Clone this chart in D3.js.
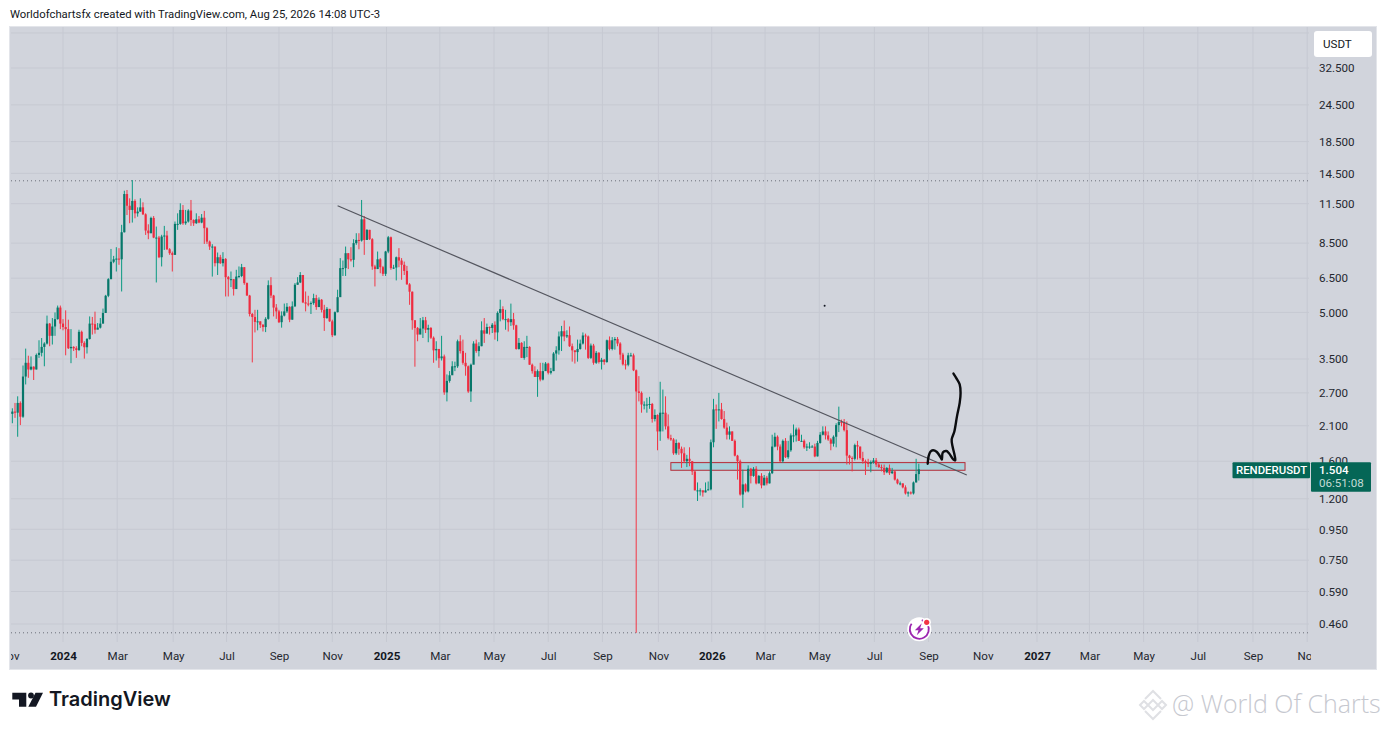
<!DOCTYPE html>
<meta charset='utf-8'>
<style>
    html, body { margin: 0; padding: 0; background: #fff; overflow: hidden; }
    text { font-family: Roboto, 'Liberation Sans', sans-serif; }
    .y-axis text, .x-axis text { font-size: 11.6px; fill: #24272f; }
    .x-axis .year { font-weight: 700; fill: #131722; }
    .y-axis path, .x-axis path, .y-axis line, .x-axis line { display: none; }
</style>
<body>
<script src='https://d3js.org/d3.v7.min.js'></script>
<script>
// 3 day candles, RENDERUSDT. Open of a candle is the close before it.
const firstBar = '2023-11-05';
const firstOpen = 2.30;
const closes = [
 2.34,2.32,2.50,2.25,3.06,3.40,3.23,3.30,3.23,3.61,
 3.67,3.84,3.94,4.59,4.18,4.49,4.75,5.19,4.59,4.47,
 4.40,3.80,3.84,3.80,3.75,4.31,3.96,3.83,4.08,4.59,
 4.57,4.38,4.45,4.59,4.98,5.68,6.45,7.37,7.51,7.55,
 7.51,9.24,12.38,11.32,10.96,11.74,10.68,10.82,11.18,10.60,
 9.36,9.17,10.31,8.87,8.87,7.63,8.94,9.01,8.11,7.87,
 7.77,9.85,9.85,10.96,9.90,10.03,10.91,10.15,9.90,10.20,
 9.95,10.33,9.53,8.60,8.28,8.28,7.29,7.63,7.29,7.53,
 6.55,6.45,6.45,5.98,6.58,6.61,7.07,6.26,5.69,4.94,
 4.83,4.65,4.67,4.55,4.47,4.76,6.16,5.69,5.19,5.04,
 4.64,4.88,5.04,5.22,4.73,5.24,6.18,6.29,6.66,5.40,
 5.35,5.33,5.37,5.58,5.21,5.51,5.10,4.79,5.14,4.67,
 4.20,5.01,5.62,7.02,7.02,7.87,7.51,7.48,8.50,8.71,
 8.67,10.20,8.71,9.41,8.76,7.11,6.97,7.51,7.07,6.72,
 7.97,8.89,7.02,7.05,7.63,7.44,7.20,6.87,6.20,5.86,
 4.71,4.44,4.22,4.42,4.71,4.38,4.44,4.12,3.74,3.78,
 3.52,3.57,2.71,2.96,3.09,3.31,3.31,4.01,3.72,3.40,
 3.31,2.73,3.35,3.94,3.72,3.86,4.36,4.25,4.47,4.44,
 4.55,4.29,4.98,5.13,4.75,4.75,4.64,4.75,4.53,3.78,
 3.96,3.53,3.84,3.84,3.35,3.19,3.05,3.19,2.99,3.19,
 3.38,3.15,3.19,3.65,3.74,4.16,4.33,4.16,4.20,3.86,
 3.74,3.69,3.78,3.94,4.19,4.16,3.53,3.88,3.40,3.67,
 3.42,3.48,3.42,4.04,3.78,4.04,4.08,3.94,3.62,3.36,
 3.35,3.60,3.60,3.21,2.73,2.70,2.47,2.47,2.47,2.48,
 2.21,2.28,2.01,2.32,2.32,2.09,1.91,1.89,1.70,1.84,
 1.76,1.70,1.60,1.63,1.60,1.48,1.28,1.28,1.28,1.26,
 1.28,1.29,1.85,2.38,2.37,2.38,2.21,2.07,1.96,2.01,
 1.87,1.67,1.60,1.24,1.34,1.27,1.51,1.43,1.51,1.35,
 1.43,1.33,1.41,1.35,1.46,1.79,1.93,1.79,1.60,1.87,
 1.65,1.74,1.95,1.95,2.04,1.87,1.87,1.78,1.79,1.79,
 1.79,1.66,1.84,1.96,2.01,1.95,1.89,1.83,1.93,2.11,
 2.16,2.15,2.03,1.67,1.64,1.63,1.81,1.79,1.64,1.60,
 1.58,1.57,1.59,1.61,1.56,1.53,1.52,1.47,1.52,1.46,
 1.48,1.39,1.35,1.35,1.31,1.25,1.26,1.25,1.36,1.45,1.504
];
const highs = [
 2.40,2.50,2.63,2.53,3.33,3.79,3.59,3.57,3.31,3.65,
 4.04,4.11,3.98,4.88,4.61,4.79,5.00,5.27,5.27,4.75,
 5.08,4.73,4.40,3.86,3.86,4.38,4.35,4.01,4.11,4.85,
 4.83,5.03,4.61,4.79,5.15,5.72,6.50,8.13,7.71,8.24,
 8.18,9.78,12.70,12.77,11.98,13.78,11.89,11.18,11.98,11.62,
 10.68,9.82,10.41,10.46,9.65,8.98,9.06,9.70,9.34,8.18,
 7.97,10.03,10.68,11.53,11.38,10.96,11.02,11.83,10.20,10.68,
 10.46,10.62,10.88,9.60,8.67,8.43,8.28,7.91,7.77,7.93,
 7.58,6.61,6.84,6.45,6.93,7.11,7.25,7.07,6.29,5.72,
 4.98,5.10,5.10,4.67,4.57,4.82,6.39,6.55,5.72,5.33,
 5.10,5.04,5.35,5.37,5.24,5.44,6.26,6.55,6.81,6.66,
 5.87,5.68,5.44,5.77,5.72,5.61,5.54,5.30,5.21,5.04,
 4.73,5.04,5.95,7.58,7.44,8.28,7.87,8.24,8.76,9.17,
 9.17,11.83,10.46,9.46,9.41,8.83,7.20,7.97,7.58,7.14,
 8.01,8.98,8.94,7.20,7.67,8.18,7.58,7.38,7.14,6.26,
 5.87,4.71,4.47,4.79,4.83,4.83,4.55,4.47,4.16,4.01,
 3.78,4.18,3.62,3.11,3.19,3.44,3.43,4.06,4.20,4.06,
 3.67,3.33,3.38,4.01,4.06,3.98,4.67,4.79,4.59,4.49,
 4.61,4.67,5.04,5.51,5.24,5.10,4.79,5.35,4.98,4.55,
 4.11,3.98,4.01,4.18,3.86,3.38,3.31,3.23,3.40,3.40,
 3.42,3.40,3.27,3.69,3.86,4.32,4.51,4.70,4.36,4.49,
 3.94,3.74,4.06,4.06,4.29,4.25,4.19,3.94,3.93,3.72,
 3.69,3.53,3.50,4.06,4.16,4.14,4.14,4.14,3.98,3.67,
 3.48,3.67,3.67,3.65,3.23,3.07,2.73,2.53,2.60,2.62,
 2.50,2.38,2.29,2.94,2.77,2.63,2.29,1.96,1.91,1.89,
 1.85,1.79,1.78,1.68,1.78,1.60,1.48,1.36,1.30,1.28,
 1.36,1.37,1.89,2.58,2.47,2.70,2.50,2.35,2.15,2.09,
 2.01,1.89,1.68,1.62,1.50,1.35,1.55,1.52,1.53,1.54,
 1.44,1.46,1.44,1.43,1.48,1.96,1.99,1.95,1.82,1.89,
 1.91,1.87,1.98,2.12,2.07,2.07,1.96,1.89,1.83,1.85,
 1.81,1.83,1.87,2.00,2.09,2.09,2.01,1.91,1.95,2.14,
 2.43,2.20,2.21,2.17,1.68,1.66,1.83,1.87,1.79,1.72,
 1.62,1.63,1.61,1.64,1.64,1.58,1.56,1.56,1.53,1.56,
 1.52,1.49,1.40,1.37,1.35,1.33,1.27,1.27,1.37,1.63,1.57
];
const lows = [
 2.14,2.23,1.93,2.11,2.23,2.88,3.03,3.21,2.98,3.23,
 3.53,3.57,3.31,3.91,3.86,3.91,4.18,4.73,4.40,4.36,
 3.60,3.78,3.39,3.72,3.53,3.72,3.86,3.51,3.65,4.06,
 4.22,4.25,4.42,4.42,4.59,4.98,5.62,6.45,7.29,6.84,
 7.20,5.87,9.22,10.54,9.90,9.95,10.28,10.41,10.82,10.54,
 9.05,8.76,9.17,8.83,6.29,7.58,7.11,8.07,8.07,7.77,
 6.84,7.77,9.41,9.78,9.78,9.78,9.95,9.70,9.70,9.85,
 9.90,9.90,8.45,8.45,8.07,6.58,7.11,6.66,7.25,7.11,
 5.65,5.65,6.07,5.69,5.98,6.50,6.55,6.18,5.68,4.85,
 3.41,4.29,4.36,4.44,4.32,4.30,4.73,5.58,4.85,4.76,
 4.61,4.45,4.85,4.98,4.64,4.73,5.21,6.18,6.26,5.37,
 5.04,5.24,4.94,5.30,5.10,5.21,5.00,4.34,4.76,4.65,
 4.14,4.18,5.00,6.34,6.61,6.61,6.97,7.38,7.07,8.39,
 8.11,8.60,7.77,8.71,8.71,6.93,6.10,6.97,6.75,6.61,
 6.61,7.87,6.93,6.97,6.39,7.07,6.42,6.66,6.18,5.30,
 4.38,3.30,4.01,4.24,4.11,4.27,3.98,4.08,3.40,3.46,
 3.27,3.46,2.66,2.53,2.92,3.11,3.19,3.27,3.65,3.35,
 3.08,2.70,2.52,3.38,3.67,3.57,3.86,3.96,4.27,4.22,
 4.27,4.06,4.01,4.67,4.71,4.38,4.32,4.51,4.38,3.76,
 3.76,3.53,3.48,3.55,3.35,3.13,3.05,2.62,2.95,2.97,
 3.23,3.11,3.11,3.19,3.46,3.62,3.72,4.01,4.11,3.84,
 3.43,3.38,3.43,3.76,3.91,3.76,3.50,3.50,3.35,3.37,
 3.38,3.23,3.35,3.40,3.74,3.74,3.76,3.86,3.48,3.33,
 3.23,3.31,3.57,3.19,0.43,2.53,2.32,2.38,2.32,2.39,
 2.15,2.17,1.74,1.87,2.01,2.04,1.89,1.87,1.68,1.68,
 1.68,1.52,1.58,1.53,1.54,1.44,1.28,1.18,1.23,1.22,
 1.26,1.28,1.28,1.78,2.05,2.17,2.20,2.05,1.89,1.89,
 1.87,1.66,1.39,1.23,1.12,1.26,1.26,1.35,1.42,1.34,
 1.35,1.30,1.33,1.33,1.35,1.45,1.78,1.74,1.59,1.58,
 1.64,1.63,1.72,1.85,1.86,1.87,1.86,1.76,1.73,1.76,
 1.78,1.65,1.66,1.83,1.95,1.89,1.87,1.74,1.79,1.78,
 2.00,2.09,2.01,1.56,1.56,1.48,1.61,1.62,1.62,1.57,
 1.44,1.53,1.47,1.57,1.53,1.52,1.48,1.44,1.46,1.44,
 1.45,1.38,1.34,1.33,1.30,1.24,1.22,1.24,1.24,1.36,1.38
];

// grid has one line above the first label, under the USDT button
const gridPrices = [42.5, 32.5, 24.5, 18.5, 14.5, 11.5, 8.5, 6.5, 5, 3.5, 2.7, 2.1, 1.6, 1.2, 0.95, 0.75, 0.59, 0.46];
const priceLabels = [32.5, 24.5, 18.5, 14.5, 11.5, 8.5, 6.5, 5, 3.5, 2.7, 2.1, 1.6, 1.2, 0.95, 0.75, 0.59, 0.46];
// ticks sit on the bar nearest the start of the month
const timeTicks = ['2023-11-01','2024-01-01','2024-03-02','2024-05-04','2024-07-03','2024-08-31','2024-10-30',
    '2024-12-30','2025-02-28','2025-04-30','2025-06-30','2025-08-30','2025-11-01',
    '2025-12-31','2026-03-01','2026-05-01','2026-07-02','2026-09-01','2026-11-01',
    '2027-01-01','2027-03-01','2027-05-01','2027-07-01','2027-09-01','2027-11-01'];
const timeLabels = ['Nov','2024','Mar','May','Jul','Sep','Nov',
    '2025','Mar','May','Jul','Sep','Nov',
    '2026','Mar','May','Jul','Sep','Nov',
    '2027','Mar','May','Jul','Sep','Nov'];

// drawings on the chart
const allTimeHigh = 13.7, allTimeLow = 0.43, lastPrice = 1.504;
const trendDates = ['2024-11-05', '2026-10-14'];
const trendPrices = [11.32, 1.44];
const zoneDates = ['2025-11-15', '2026-10-12'];
const zonePrices = [1.583, 1.493];
const speckDate = '2026-05-07', speckPrice = 5.26;
const sketchDays = [973,974,976,979,983,988,989,990,994,997,1002,1004,1003,1001,1000,1003,1006,1009,1010,1009,1005,1002];
const sketchPrices = [1.57,1.66,1.72,1.74,1.72,1.64,1.62,1.71,1.73,1.70,1.62,1.61,1.69,1.79,1.89,2.01,2.26,2.50,2.70,2.88,3.03,3.13];

const UP = '#089981', DOWN = '#f23645', UP_BODY = '#07776a', DOWN_BODY = '#ee2c40';
const parseDate = d3.timeParse('%Y-%m-%d');

const paneLeft = 11, paneRight = 1309, paneTop = 27, paneBottom = 642;

const svg = d3.select('body').append('svg')
    .attr('width', 1386).attr('height', 730)
    .style('display', 'block');

const x = d3.scaleTime()
    .domain([parseDate('2024-01-01'), parseDate('2027-01-01')])
    .range([63, 1037]);
const y = d3.scaleLog()
    .domain([0.46, 32.5])
    .range([624, 68]);

svg.append('defs').append('clipPath').attr('id', 'pane')
    .append('rect').attr('x', paneLeft).attr('y', paneTop).attr('width', paneRight - paneLeft).attr('height', paneBottom - paneTop);

svg.append('text').attr('x', 10).attr('y', 18)
    .style('font-size', '11.3px').style('fill', '#131722')
    .text('Worldofchartsfx created with TradingView.com, Aug 25, 2026 14:08 UTC-3');

// panel
svg.append('rect').attr('x', 9.5).attr('y', 26.5).attr('width', 1367).attr('height', 643)
    .attr('fill', '#d1d4dc').attr('stroke', '#e3e5ea');

const pane = svg.append('g').attr('clip-path', 'url(#pane)');

// grid
pane.append('g').selectAll('line').data(timeTicks).join('line')
    .attr('x1', d => x(parseDate(d))).attr('x2', d => x(parseDate(d)))
    .attr('y1', paneTop).attr('y2', paneBottom)
    .attr('stroke', '#c6c9d2');
pane.append('g').selectAll('line').data(gridPrices).join('line')
    .attr('x1', paneLeft).attr('x2', paneRight)
    .attr('y1', d => y(d)).attr('y2', d => y(d))
    .attr('stroke', '#c6c9d2');

// high and low markers
pane.append('g').selectAll('line').data([allTimeHigh, allTimeLow]).join('line')
    .attr('x1', paneLeft).attr('x2', paneRight)
    .attr('y1', d => y(d)).attr('y2', d => y(d))
    .attr('stroke', '#6b6e78').attr('stroke-dasharray', '1,3');

// zone
pane.append('rect')
    .attr('x', x(parseDate(zoneDates[0])))
    .attr('y', y(zonePrices[0]))
    .attr('width', x(parseDate(zoneDates[1])) - x(parseDate(zoneDates[0])))
    .attr('height', y(zonePrices[1]) - y(zonePrices[0]))
    .attr('fill', '#a7d0da').attr('stroke', '#b52a35').attr('stroke-width', 1);

// candles
const candles = closes.map((c, i) => ({
    date: d3.timeDay.offset(parseDate(firstBar), i * 3),
    open: i ? closes[i - 1] : firstOpen,
    close: c,
    high: highs[i],
    low: lows[i]
}));

const candle = pane.append('g').selectAll('g').data(candles).join('g');
candle.append('line')
    .attr('x1', d => x(d.date)).attr('x2', d => x(d.date))
    .attr('y1', d => y(d.high)).attr('y2', d => y(d.low))
    .attr('stroke', d => d.close >= d.open ? UP : DOWN)
    .attr('stroke-width', 1);
candle.append('rect')
    .attr('x', d => x(d.date) - 1.1)
    .attr('width', 2.2)
    .attr('y', d => y(Math.max(d.open, d.close)))
    .attr('height', d => Math.max(1, Math.abs(y(d.open) - y(d.close))))
    .attr('fill', d => d.close >= d.open ? UP_BODY : DOWN_BODY);

// trend line
pane.append('line')
    .attr('x1', x(parseDate(trendDates[0]))).attr('y1', y(trendPrices[0]))
    .attr('x2', x(parseDate(trendDates[1]))).attr('y2', y(trendPrices[1]))
    .attr('stroke', '#54565f').attr('stroke-width', 1.2);

// hand drawn path
const sketchStart = parseDate('2024-01-01');
const sketch = d3.line()
    .x(d => x(d3.timeDay.offset(sketchStart, d[0])))
    .y(d => y(d[1]))
    .curve(d3.curveCatmullRom);
pane.append('path')
    .attr('d', sketch(sketchDays.map((d, i) => [d, sketchPrices[i]])))
    .attr('fill', 'none').attr('stroke', '#0b0c0f').attr('stroke-width', 2.4).attr('stroke-linecap', 'round');
pane.append('circle')
    .attr('cx', x(parseDate(speckDate))).attr('cy', y(speckPrice)).attr('r', 1)
    .attr('fill', '#131722');

// price axis
svg.append('g').attr('class', 'y-axis')
    .attr('transform', `translate(${paneRight},0)`)
    .call(d3.axisRight(y).tickValues(priceLabels).tickFormat(d3.format('.3f')).tickSize(0).tickPadding(10));

// time axis, labels cut at the pane edges
svg.append('clipPath').attr('id', 'timeClip')
    .append('rect').attr('x', paneLeft).attr('y', paneBottom).attr('width', paneRight - paneLeft + 2).attr('height', 27);
const xAxis = svg.append('g').attr('class', 'x-axis')
    .attr('clip-path', 'url(#timeClip)')
    .append('g')
    .attr('transform', `translate(0,${paneBottom})`)
    .call(d3.axisBottom(x).tickValues(timeTicks.map(parseDate)).tickFormat((d, i) => timeLabels[i]).tickSize(0).tickPadding(10));
xAxis.selectAll('text').classed('year', (d, i) => /^\d/.test(timeLabels[i]));

// USDT button
svg.append('rect').attr('x', 1314).attr('y', 31).attr('width', 58).attr('height', 26).attr('rx', 3).attr('fill', '#fff');
svg.append('text').attr('x', 1323).attr('y', 48).style('font-size', '11.6px').style('fill', '#131722').text('USDT');

// last price tags
svg.append('rect').attr('x', 1232.5).attr('y', y(lastPrice) - 7).attr('width', 77.5).attr('height', 16).attr('rx', 1).attr('fill', '#056656');
svg.append('text').attr('x', 1236).attr('y', y(lastPrice) + 5).style('font-size', '11.4px').style('fill', '#fff').style('font-weight', 500).text('RENDERUSDT');
svg.append('rect').attr('x', 1311).attr('y', y(lastPrice) - 7).attr('width', 60).attr('height', 29.5).attr('rx', 1).attr('fill', '#056656');
svg.append('text').attr('x', 1319).attr('y', y(lastPrice) + 5).style('font-size', '11.6px').style('fill', '#fff').style('font-weight', 500).text(d3.format('.3f')(lastPrice));
svg.append('text').attr('x', 1319).attr('y', y(lastPrice) + 18).style('font-size', '11.6px').style('fill', '#c3dad5').text('06:51:08');

// lightning badge
const badge = svg.append('g').attr('transform', 'translate(919.3,629.3)');
badge.append('circle').attr('r', 12).attr('fill', '#fff');
badge.append('circle').attr('r', 9.5).attr('fill', 'none').attr('stroke', '#9c27b0').attr('stroke-width', 1.8)
    .attr('stroke-dasharray', '48,12').attr('transform', 'rotate(-75)');
badge.append('path').attr('d', 'M2.5,-6 L-4.5,1 L-0.8,1 L-2.5,6 L4.5,-1 L0.8,-1 Z').attr('fill', '#9c27b0');
badge.append('circle').attr('cx', 7.4).attr('cy', -7).attr('r', 4.2).attr('fill', '#fff');
badge.append('circle').attr('cx', 7.4).attr('cy', -7).attr('r', 2.6).attr('fill', '#f23645');

// TradingView logo
const logo = svg.append('g').attr('fill', '#131722');
logo.append('path').attr('d', 'M12.3,692.7 H26.3 V706.7 H19 V699.5 H12.3 Z');
logo.append('circle').attr('cx', 31).attr('cy', 695.5).attr('r', 2.9);
logo.append('path').attr('d', 'M35.5,692.7 H43 L36,706.7 H28.3 Z');
svg.append('text').attr('x', 49).attr('y', 706).attr('fill', '#131722')
    .style('font-family', "Inter, Roboto, sans-serif").style('font-size', '20px').style('font-weight', 600)
    .text('TradingView');

// watermark
const mark = svg.append('g').attr('transform', 'translate(1153,705)').attr('fill', 'none').attr('stroke', '#dfe0e4').attr('stroke-width', 2);
mark.append('path').attr('d', 'M-8,-6 L0,-14 L8,-6');
mark.append('path').attr('d', 'M-8,6 L0,14 L8,6');
mark.append('path').attr('d', 'M-13,0 L-9,-4 L-5,0 L-9,4 Z');
mark.append('path').attr('d', 'M13,0 L9,-4 L5,0 L9,4 Z');
mark.append('path').attr('d', 'M0,-5 L5,0 L0,5 L-5,0 Z');
svg.append('text').attr('x', 1172).attr('y', 713)
    .style('font-family', "'Open Sans', sans-serif").style('font-size', '25px').style('font-weight', 300)
    .style('fill', '#c6c8cf')
    .text('@ World Of Charts');
</script>
</body>
